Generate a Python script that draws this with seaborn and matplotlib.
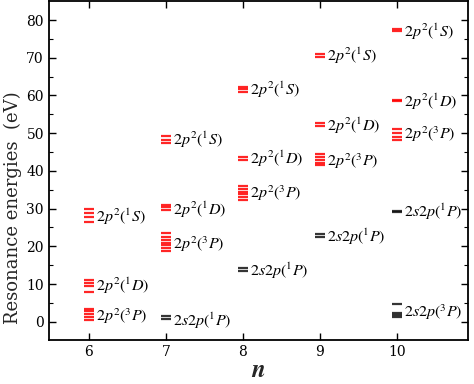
import matplotlib
matplotlib.use("Agg")
import matplotlib.pyplot as plt
import seaborn as sns
import pandas as pd

# resonance energies (eV), per n
n6_red = [0.5, 1.2, 2.0, 2.8, 3.5, 8.0, 9.5, 10.2, 11.0, 26.5, 27.8, 28.8, 29.8]
n6_black = []
n7_red = [18.8, 19.6, 20.3, 21.0, 21.8, 22.5, 23.5, 29.5, 30.3, 31.0, 47.3, 48.3, 49.2]
n7_black = [0.8, 1.6]
n8_red = [32.3, 33.0, 33.8, 34.5, 35.2, 36.0, 43.0, 43.8, 60.9, 61.6, 62.3]
n8_black = [13.4, 14.3]
n9_red = [41.6, 42.2, 43.0, 43.8, 44.6, 52.0, 52.6, 70.3, 71.0]
n9_black = [22.5, 23.2]
n10_red = [48.2, 49.0, 50.0, 51.2, 58.4, 58.8, 77.0, 77.5]
n10_black = [1.3, 1.8, 2.3, 4.6, 29.0, 29.4]

# state labels
label_n = [6, 6, 6,
           7, 7, 7, 7,
           8, 8, 8, 8,
           9, 9, 9, 9,
           10, 10, 10, 10, 10]
label_E = [1.5, 9.5, 27.8,
           0.3, 20.5, 29.6, 48.3,
           13.4, 34.0, 43.2, 61.6,
           22.4, 42.6, 52.0, 70.6,
           2.6, 29.2, 49.6, 58.4, 76.9]
label_text = [r"$2p^2(^3P)$", r"$2p^2(^1D)$", r"$2p^2(^1S)$",
              r"$2s2p(^1P)$", r"$2p^2(^3P)$", r"$2p^2(^1D)$", r"$2p^2(^1S)$",
              r"$2s2p(^1P)$", r"$2p^2(^3P)$", r"$2p^2(^1D)$", r"$2p^2(^1S)$",
              r"$2s2p(^1P)$", r"$2p^2(^3P)$", r"$2p^2(^1D)$", r"$2p^2(^1S)$",
              r"$2s2p(^3P)$", r"$2s2p(^1P)$", r"$2p^2(^3P)$", r"$2p^2(^1D)$", r"$2p^2(^1S)$"]

rows = []
for n, red, black in [(6, n6_red, n6_black), (7, n7_red, n7_black),
                      (8, n8_red, n8_black), (9, n9_red, n9_black),
                      (10, n10_red, n10_black)]:
    rows += [(n, e, "2p2") for e in red]
    rows += [(n, e, "2s2p") for e in black]
df = pd.DataFrame(rows, columns=["n", "E", "config"])

sns.set_theme(style="ticks")
plt.rcParams["font.family"] = ["DejaVu Serif"]
plt.rcParams["mathtext.fontset"] = "stix"

fig, ax = plt.subplots(figsize=(4.74, 3.84), dpi=100)
fig.subplots_adjust(left=0.103, right=0.987, bottom=0.115, top=0.997)

sns.scatterplot(data=df, x="n", y="E", hue="config",
                palette={"2p2": "#ff0000", "2s2p": "#111111"},
                marker="_", s=45, linewidth=1.6, alpha=0.85,
                legend=False, ax=ax)

for n, e, t in zip(label_n, label_E, label_text):
    ax.text(n + 0.09, e, t, fontsize=11.5, va="center", ha="left", color="black")

ax.set_xlim(5.48, 10.92)
ax.set_ylim(-4.8, 85)
ax.set_xticks([6, 7, 8, 9, 10])
ax.set_yticks(range(0, 81, 10))
ax.set_yticks(range(5, 81, 10), minor=True)
ax.tick_params(which="both", direction="in", top=True, right=True,
               labelsize=10, colors="black")
ax.tick_params(which="major", length=5, width=1.0)
ax.tick_params(which="minor", length=3, width=0.8)
for sp in ax.spines.values():
    sp.set_linewidth(1.3)
    sp.set_color("black")

ax.set_xlabel(r"$\boldsymbol{n}$", fontsize=18, labelpad=0)
ax.set_ylabel("Resonance energies  (eV)", fontsize=13)
ax.yaxis.set_label_coords(-0.065, 0.39)

fig.savefig("out.png", dpi=100)
